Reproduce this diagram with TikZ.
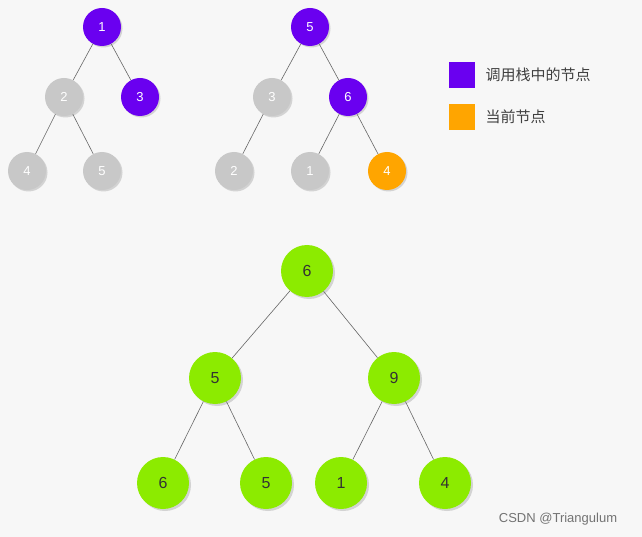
\documentclass[tikz,border=0pt]{standalone}
\usepackage{fontspec}
\setmainfont{Liberation Sans}
\newfontfamily\cjk{Noto Sans CJK SC}
\usetikzlibrary{shadows}
\definecolor{pur}{HTML}{6A00F0}
\definecolor{org}{HTML}{FFA500}
\definecolor{grn}{HTML}{8CEB00}
\definecolor{gry}{HTML}{C8C8C8}
\definecolor{bg}{HTML}{F7F7F7}
\begin{document}
\begin{tikzpicture}[x=1pt,y=-1pt,
  sm/.style={circle,minimum size=38pt,inner sep=0pt,text=white,font=\fontsize{13}{13}\selectfont,drop shadow={shadow xshift=1.5pt,shadow yshift=-1.5pt,opacity=0.3}},
  pn/.style={sm,fill=pur},
  gn/.style={sm,fill=gry},
  on/.style={sm,fill=org},
  bn/.style={circle,minimum size=52pt,inner sep=0pt,fill=grn,text=black!80,font=\fontsize{16}{16}\selectfont,drop shadow={shadow xshift=2pt,shadow yshift=-2pt,opacity=0.3}},
  ed/.style={draw=black!60,line width=0.6pt}]
\fill[bg] (0,0) rectangle (642,537);
\useasboundingbox (0,0) rectangle (642,537);
% tree 1
\node[pn] (a1) at (102,27) {1};
\node[gn] (a2) at (64,97) {2};
\node[pn] (a3) at (140,97) {3};
\node[gn] (a4) at (27,171) {4};
\node[gn] (a5) at (102,171) {5};
% tree 2
\node[pn] (b5) at (310,27) {5};
\node[gn] (b3) at (272,97) {3};
\node[pn] (b6) at (348,97) {6};
\node[gn] (b2) at (234,171) {2};
\node[gn] (b1) at (310,171) {1};
\node[on] (b4) at (387,171) {4};
% bottom
\node[bn] (c6) at (307,271) {6};
\node[bn] (c5) at (215,378) {5};
\node[bn] (c9) at (394,378) {9};
\node[bn] (d6) at (163,483) {6};
\node[bn] (d5) at (266,483) {5};
\node[bn] (d1) at (341,483) {1};
\node[bn] (d4) at (445,483) {4};
\foreach \u/\v in {a1/a2,a1/a3,a2/a4,a2/a5,b5/b3,b5/b6,b3/b2,b6/b1,b6/b4,c6/c5,c6/c9,c5/d6,c5/d5,c9/d1,c9/d4}
  \draw[ed] (\u) -- (\v);
% legend
\node[fill=pur,minimum size=26pt,inner sep=0pt] (l1) at (462,75) {};
\node[anchor=west,font=\cjk\fontsize{15}{15}\selectfont,text=black!75] (t1) at (482,75) {调用栈中的节点};
\node[fill=org,minimum size=26pt,inner sep=0pt] (l2) at (462,117) {};
\node[anchor=west,font=\cjk\fontsize{15}{15}\selectfont,text=black!75] (t2) at (482,117) {当前节点};
\node[font=\fontsize{13}{13}\selectfont,text=black!55] (cs) at (558,519) {CSDN @Triangulum};
\end{tikzpicture}
\end{document}
